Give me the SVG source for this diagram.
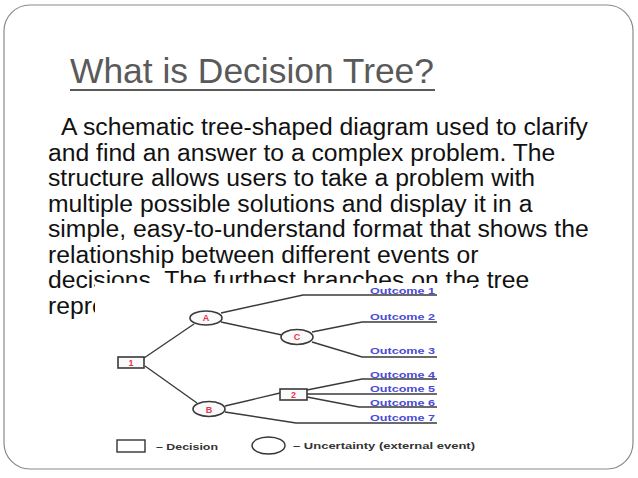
<svg xmlns="http://www.w3.org/2000/svg" width="638" height="478" viewBox="0 0 638 478">
<style>
.body{font-family:"Liberation Sans",Arial,sans-serif;font-size:24.7px;fill:#111}
.title{font-family:"Liberation Sans",Arial,sans-serif;font-size:35px;fill:#5a5a5a}
.ln{fill:none;stroke:#3a3a3a;stroke-width:1.4}
.box{fill:#fafafa;stroke:#3a3a3a;stroke-width:1.6}
.lab{font-family:"Liberation Sans",Arial,sans-serif;font-size:9px;font-weight:bold;fill:#e8354f;text-anchor:middle}
.out{font-family:"Liberation Sans",Arial,sans-serif;font-size:9px;font-weight:bold;fill:#4a4ad6}
.leg{font-family:"Liberation Sans",Arial,sans-serif;font-size:8.5px;font-weight:bold;fill:#333}
</style>
<rect x="0" y="0" width="638" height="478" fill="#ffffff"/>
<rect x="4" y="5" width="629" height="464" rx="26" ry="26" fill="#ffffff" stroke="#8a8a8a" stroke-width="1.2"/>
<g id="title">
<text class="title" x="70" y="83" textLength="364" lengthAdjust="spacingAndGlyphs">What is Decision Tree?</text>
<line x1="70" y1="90" x2="435" y2="90" stroke="#5a5a5a" stroke-width="2"/>
</g>
<g id="body">
<text class="body" x="61" y="135">A schematic tree-shaped diagram used to clarify</text>
<text class="body" x="48" y="160.5">and find an answer to a complex problem. The</text>
<text class="body" x="48" y="186">structure allows users to take a problem with</text>
<text class="body" x="48" y="211.5">multiple possible solutions and display it in a</text>
<text class="body" x="48" y="237">simple, easy-to-understand format that shows the</text>
<text class="body" x="48" y="262.5">relationship between different events or</text>
<text class="body" x="48" y="288">decisions. The furthest branches on the tree</text>
<text class="body" x="48" y="313.5">repre</text>
</g>
<rect x="95" y="283" width="378" height="178" fill="#ffffff"/>
<g id="connectors">
<polyline class="ln" points="144,358 194,324"/>
<polyline class="ln" points="145,366 197,403"/>
<polyline class="ln" points="221,313 303,295 437,295"/>
<polyline class="ln" points="221,322 282,335"/>
<polyline class="ln" points="312,332 362,322 437,322"/>
<polyline class="ln" points="312,342 362,357 437,357"/>
<polyline class="ln" points="225,406 280,393"/>
<polyline class="ln" points="225,412 296,423 437,423"/>
<polyline class="ln" points="307,390 362,379 437,379"/>
<polyline class="ln" points="307,394 437,394"/>
<polyline class="ln" points="307,397 359,407 437,407"/>
</g>
<g id="node-1"><rect class="box" x="118" y="357" width="26" height="11"/><text class="lab" x="131" y="366">1</text></g>
<g id="node-A"><ellipse class="box" cx="206" cy="318" rx="16" ry="7"/><text class="lab" x="206" y="321">A</text></g>
<g id="node-C"><ellipse class="box" cx="297" cy="337" rx="16" ry="7.5"/><text class="lab" x="297" y="340">C</text></g>
<g id="node-B"><ellipse class="box" cx="209" cy="409" rx="16" ry="7.5"/><text class="lab" x="209" y="412.5">B</text></g>
<g id="node-2"><rect class="box" x="280" y="389" width="27" height="11"/><text class="lab" x="293.5" y="398">2</text></g>
<g id="outcomes">
<text class="out" x="370" y="294" textLength="65" lengthAdjust="spacingAndGlyphs">Outcome 1</text>
<text class="out" x="370" y="320" textLength="65" lengthAdjust="spacingAndGlyphs">Outcome 2</text>
<text class="out" x="370" y="354" textLength="65" lengthAdjust="spacingAndGlyphs">Outcome 3</text>
<text class="out" x="370" y="378" textLength="65" lengthAdjust="spacingAndGlyphs">Outcome 4</text>
<text class="out" x="370" y="392" textLength="65" lengthAdjust="spacingAndGlyphs">Outcome 5</text>
<text class="out" x="370" y="406" textLength="65" lengthAdjust="spacingAndGlyphs">Outcome 6</text>
<text class="out" x="370" y="421" textLength="65" lengthAdjust="spacingAndGlyphs">Outcome 7</text>
</g>
<g id="legend">
<rect x="117" y="440" width="28" height="12" fill="#fff" stroke="#333" stroke-width="1.4"/>
<text class="leg" x="156" y="450" textLength="62" lengthAdjust="spacingAndGlyphs">– Decision</text>
<ellipse cx="268.5" cy="445.5" rx="16.5" ry="8.5" fill="#fff" stroke="#333" stroke-width="1.4"/>
<text class="leg" x="293" y="449" textLength="182" lengthAdjust="spacingAndGlyphs">– Uncertainty (external event)</text>
</g>
</svg>
